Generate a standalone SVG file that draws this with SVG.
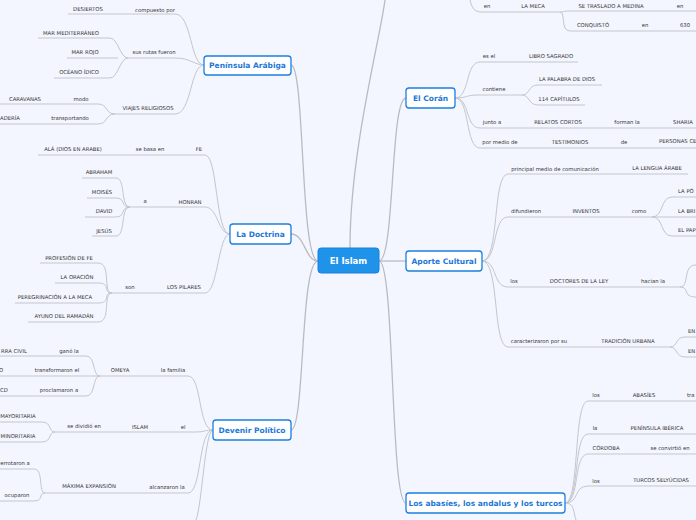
<svg xmlns="http://www.w3.org/2000/svg" width="696" height="520" viewBox="0 0 696 520">
<style>
.t{font-family:"DejaVu Sans",Verdana,sans-serif;font-size:5.3px;fill:#333;text-anchor:middle}
.l{fill:none;stroke:#c4c6cc;stroke-width:1}
.m{fill:none;stroke:#b9bbc2;stroke-width:1.3}
.nb{fill:#fff;stroke:#1a7fe0;stroke-width:1.3}
.nt{font-family:"DejaVu Sans",Verdana,sans-serif;font-size:7.5px;font-weight:bold;fill:#1c78d8;text-anchor:middle}
</style>
<rect width="696" height="520" fill="#f3f6fe"/>
<g id="connectors">
<path class="m" d="M318,261 C300,261 305,65 291,65"/>
<path class="m" d="M318,261 C305,261 305,234 291,234"/>
<path class="m" d="M318,261 C300,261 305,430 291,430"/>
<path class="m" d="M379,261 C395,261 390,98 406,98"/>
<path class="m" d="M379,261 C392,261 392,261 406,261"/>
<path class="m" d="M379,261 C395,261 390,503 406,503"/>
<path class="m" d="M350,248 C350,150 380,40 385,0"/>
<!-- Peninsula -->
<path class="l" d="M204,65 C190,65 192,14 175,14 L68,14"/>
<path class="l" d="M204,65 C195,65 190,58 175,58 L128,58"/>
<path class="l" d="M128,58 C120,58 118,38 110,38 L38,38 M118,58 L67,58 M128,58 C120,58 118,78 110,78 L54,78"/>
<path class="l" d="M204,65 C190,65 192,114 175,114 L115,114"/>
<path class="l" d="M115,114 C105,114 108,104 98,104 L0,104 M115,114 C105,114 108,124 98,124 L0,124"/>
<!-- Doctrina -->
<path class="l" d="M230,234 C215,234 218,155 205,155 L38,155"/>
<path class="l" d="M230,234 C218,234 218,207 205,207 L130,207"/>
<path class="l" d="M130,207 C120,207 126,178 116,178 L82,178 M130,207 C120,207 126,198 116,198 L87,198 M130,207 C120,207 126,217 116,217 L85,217 M130,207 C120,207 126,236 116,236 L92,236"/>
<path class="l" d="M230,234 C218,234 218,293 205,293 L112,293"/>
<path class="l" d="M112,293 C102,293 112,263 98,263 L40,263 M112,293 C102,293 112,283 98,283 L55,283 M112,293 C102,293 112,303 98,303 L15,303 M112,293 C102,293 112,322 98,322 L28,322"/>
<!-- Devenir -->
<path class="l" d="M213,430 C198,430 202,376 188,376 L100,376"/>
<path class="l" d="M100,376 C92,376 96,356 86,356 L0,356 M100,376 L0,376 M100,376 C92,376 96,396 86,396 L0,396"/>
<path class="l" d="M213,430 C205,430 205,432 195,432 L55,432"/>
<path class="l" d="M55,432 C48,432 52,422 42,422 L0,422 M55,432 C48,432 52,442 42,442 L0,442"/>
<path class="l" d="M213,430 C198,430 202,493 188,493 L45,493"/>
<path class="l" d="M45,493 C38,493 44,469 34,469 L0,469 M45,493 C38,493 44,501 34,501 L0,501"/>
<path class="l" d="M213,430 C205,430 202,505 196,520"/>
<!-- top -->
<path class="l" d="M470,0 C472,8 474,12 482,12 L560,12"/>
<path class="l" d="M560,12 C566,12 562,11 570,11 L696,11 M560,12 C566,12 560,31 570,31 L696,31"/>
<!-- Coran -->
<path class="l" d="M455,98 C470,98 465,62 480,62 L578,62"/>
<path class="l" d="M455,98 C468,98 465,95 478,95 L522,95"/>
<path class="l" d="M522,95 C530,95 528,85 538,85 L602,85 M522,95 C530,95 528,105 538,105 L585,105"/>
<path class="l" d="M455,98 C470,98 465,128 480,128 L696,128"/>
<path class="l" d="M455,98 C470,98 465,148 480,148 L696,148"/>
<!-- Aporte -->
<path class="l" d="M482,261 C500,261 492,174 508,174 L688,174"/>
<path class="l" d="M482,261 C498,261 492,217 508,217 L652,217"/>
<path class="l" d="M652,217 C664,217 660,197 672,197 L696,197 M652,217 L696,217 M652,217 C664,217 660,236 672,236 L696,236"/>
<path class="l" d="M482,261 C498,261 492,287 508,287 L680,287"/>
<path class="l" d="M680,287 C690,287 682,265 696,265 M680,287 C690,287 682,297 696,297"/>
<path class="l" d="M482,261 C500,261 492,347 508,347 L670,347"/>
<path class="l" d="M670,347 C678,347 675,337 685,337 L696,337 M670,347 C678,347 675,357 685,357 L696,357"/>
<!-- Abasies -->
<path class="l" d="M565,503 C580,503 573,401 588,401 L696,401"/>
<path class="l" d="M565,503 C580,503 573,434 588,434 L696,434"/>
<path class="l" d="M565,503 C580,503 573,454 588,454 L696,454"/>
<path class="l" d="M565,503 C580,503 573,486 588,486 L696,486"/>
<path class="l" d="M565,503 C575,503 573,512 576,520"/>
</g>
<g id="center"><rect x="318" y="248" width="61" height="25" rx="3" fill="#1f93ea" stroke="#1a7fe0"/><text x="348.5" y="264" font-family="DejaVu Sans,sans-serif" font-size="8.5" font-weight="bold" fill="#fff" text-anchor="middle">El Islam</text></g>
<g id="n-peninsula"><rect class="nb" x="204" y="56" width="87" height="19" rx="3"/><text class="nt" x="247.5" y="68">Península Arábiga</text></g>
<g id="n-doctrina"><rect class="nb" x="230" y="224" width="61" height="20" rx="3"/><text class="nt" x="260.5" y="237">La Doctrina</text></g>
<g id="n-devenir"><rect class="nb" x="213" y="420" width="78" height="20" rx="3"/><text class="nt" x="252" y="433">Devenir Político</text></g>
<g id="n-coran"><rect class="nb" x="406" y="88" width="49" height="20" rx="3"/><text class="nt" x="430.5" y="101">El Corán</text></g>
<g id="n-aporte"><rect class="nb" x="406" y="251" width="76" height="20" rx="3"/><text class="nt" x="444" y="264">Aporte Cultural</text></g>
<g id="n-abasies"><rect class="nb" x="406" y="493" width="159" height="20" rx="3"/><text class="nt" x="485.5" y="506">Los abasíes, los andalus y los turcos</text></g>
<g id="labels">
<text class="t" x="88" y="11">DESIERTOS</text><text class="t" x="155" y="12">compuesto por</text>
<text class="t" x="71" y="35">MAR MEDITERRÁNEO</text><text class="t" x="85" y="54">MAR ROJO</text><text class="t" x="79" y="74">OCÉANO ÍDICO</text><text class="t" x="154" y="54">sus rutas fueron</text>
<text class="t" x="25" y="101">CARAVANAS</text><text class="t" x="81" y="101">modo</text><text class="t" x="148" y="110">VIAJES RELIGIOSOS</text>
<text class="t" x="10" y="120">ADERÍA</text><text class="t" x="70" y="120">transportando</text>
<text class="t" x="73" y="151">ALÁ (DIOS EN ARABE)</text><text class="t" x="150" y="151">se basa en</text><text class="t" x="199" y="151">FE</text>
<text class="t" x="99" y="174">ABRAHAM</text><text class="t" x="102" y="194">MOISÉS</text><text class="t" x="104" y="213">DAVID</text><text class="t" x="104" y="233">JESÚS</text>
<text class="t" x="145" y="203">a</text><text class="t" x="190" y="204">HONRAN</text>
<text class="t" x="69" y="260">PROFESIÓN DE FE</text><text class="t" x="77" y="279">LA ORACIÓN</text><text class="t" x="55" y="299">PEREGRINACIÓN A LA MECA</text><text class="t" x="64" y="318">AYUNO DEL RAMADÁN</text>
<text class="t" x="130" y="289">son</text><text class="t" x="184" y="289">LOS PILARES</text>
<text class="t" x="14" y="353">RRA CIVIL</text><text class="t" x="69" y="353">ganó la</text>
<text class="t" x="1" y="372">O</text><text class="t" x="57" y="372">transformaron el</text><text class="t" x="120" y="372">OMEYA</text><text class="t" x="173" y="372">la familia</text>
<text class="t" x="4" y="392">CD</text><text class="t" x="59" y="392">proclamaron a</text>
<text class="t" x="18" y="418">MAYORITARIA</text><text class="t" x="18" y="438">MINORITARIA</text>
<text class="t" x="84" y="428">se dividió en</text><text class="t" x="140" y="429">ISLAM</text><text class="t" x="183" y="429">el</text>
<text class="t" x="15" y="465">errotaron a</text><text class="t" x="17" y="497">ocuparon</text>
<text class="t" x="89" y="488">MÁXIMA EXPANSIÓN</text><text class="t" x="167" y="489">alcanzaron la</text>
<text class="t" x="487" y="8">en</text><text class="t" x="533" y="8">LA MECA</text><text class="t" x="611" y="8">SE TRASLADO A MEDINA</text><text class="t" x="680" y="8">en</text>
<text class="t" x="593" y="27">CONQUISTÓ</text><text class="t" x="645" y="27">en</text><text class="t" x="685" y="27">630</text>
<text class="t" x="489" y="58">es el</text><text class="t" x="551" y="58">LIBRO SAGRADO</text>
<text class="t" x="494" y="91">contiene</text><text class="t" x="567" y="81">LA PALABRA DE DIOS</text><text class="t" x="559" y="101">114 CAPÍTULOS</text>
<text class="t" x="492" y="124">junto a</text><text class="t" x="558" y="124">RELATOS CORTOS</text><text class="t" x="627" y="124">forman la</text><text class="t" x="683" y="124">SHARIA</text>
<text class="t" x="500" y="144">por medio de</text><text class="t" x="570" y="144">TESTIMONIOS</text><text class="t" x="624" y="144">de</text><text class="t" x="659" y="143" style="text-anchor:start">PERSONAS CE</text>
<text class="t" x="555" y="171">principal medio de comunicación</text><text class="t" x="657" y="170">LA LENGUA ÁRABE</text>
<text class="t" x="526" y="213">difundieron</text><text class="t" x="586" y="213">INVENTOS</text><text class="t" x="639" y="213">como</text>
<text class="t" x="678" y="193" style="text-anchor:start">LA PÓ</text><text class="t" x="678" y="213" style="text-anchor:start">LA BRI</text><text class="t" x="678" y="232" style="text-anchor:start">EL PAP</text>
<text class="t" x="514" y="283">los</text><text class="t" x="579" y="283">DOCTORES DE LA LEY</text><text class="t" x="653" y="283">hacian la</text>
<text class="t" x="539" y="343">caracterizaron por su</text><text class="t" x="628" y="343">TRADICIÓN URBANA</text>
<text class="t" x="688" y="333" style="text-anchor:start">EN</text><text class="t" x="688" y="353" style="text-anchor:start">EN</text>
<text class="t" x="596" y="397">los</text><text class="t" x="644" y="397">ABASÍES</text><text class="t" x="687" y="397" style="text-anchor:start">tra</text>
<text class="t" x="595" y="430">la</text><text class="t" x="657" y="430">PENÍNSULA IBÉRICA</text>
<text class="t" x="606" y="450">CÓRDOBA</text><text class="t" x="670" y="450">se convirtió en</text>
<text class="t" x="596" y="483">los</text><text class="t" x="661" y="482">TURCOS SELYÚCIDAS</text>
</g>
</svg>
